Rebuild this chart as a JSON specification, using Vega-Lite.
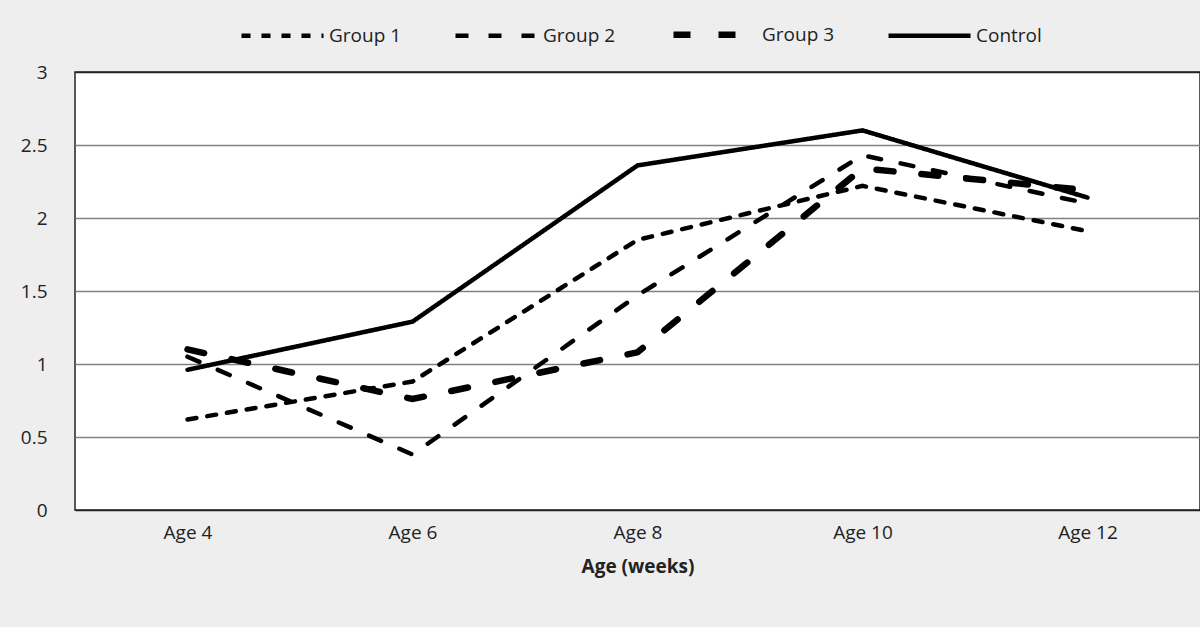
{
  "$schema": "https://vega.github.io/schema/vega-lite/v6.json",
  "autosize": {"type": "none"},
  "padding": {"left": 75, "top": 72, "right": 0, "bottom": 117},
  "width": 1125,
  "height": 438,
  "background": "#eeeeee",
  "config": {
    "font": "Open Sans",
    "view": {"fill": "white", "stroke": "#222", "strokeWidth": 1.5}
  },
  "data": {
    "values": [
      {"age": "Age 4", "series": "Group 1", "value": 0.62},
      {"age": "Age 6", "series": "Group 1", "value": 0.88},
      {"age": "Age 8", "series": "Group 1", "value": 1.85},
      {"age": "Age 10", "series": "Group 1", "value": 2.22},
      {"age": "Age 12", "series": "Group 1", "value": 1.91},
      {"age": "Age 4", "series": "Group 2", "value": 1.05},
      {"age": "Age 6", "series": "Group 2", "value": 0.38},
      {"age": "Age 8", "series": "Group 2", "value": 1.47},
      {"age": "Age 10", "series": "Group 2", "value": 2.43},
      {"age": "Age 12", "series": "Group 2", "value": 2.1},
      {"age": "Age 4", "series": "Group 3", "value": 1.1},
      {"age": "Age 6", "series": "Group 3", "value": 0.76},
      {"age": "Age 8", "series": "Group 3", "value": 1.08},
      {"age": "Age 10", "series": "Group 3", "value": 2.34},
      {"age": "Age 12", "series": "Group 3", "value": 2.19},
      {"age": "Age 4", "series": "Control", "value": 0.96},
      {"age": "Age 6", "series": "Control", "value": 1.29},
      {"age": "Age 8", "series": "Control", "value": 2.36},
      {"age": "Age 10", "series": "Control", "value": 2.6},
      {"age": "Age 12", "series": "Control", "value": 2.14}
    ]
  },
  "mark": {"type": "line", "color": "black", "strokeCap": "round"},
  "encoding": {
    "x": {
      "field": "age",
      "type": "ordinal",
      "sort": ["Age 4", "Age 6", "Age 8", "Age 10", "Age 12"],
      "scale": {"padding": 0.5},
      "axis": {
        "title": "Age (weeks)",
        "labelAngle": 0,
        "labelFontSize": 19,
        "labelColor": "#222",
        "labelPadding": 13,
        "ticks": false,
        "domain": false,
        "titleFontSize": 19,
        "titleFontWeight": "bold",
        "titleColor": "#222",
        "titlePadding": 15
      }
    },
    "y": {
      "field": "value",
      "type": "quantitative",
      "scale": {"domain": [0, 3]},
      "axis": {
        "title": null,
        "values": [0, 0.5, 1, 1.5, 2, 2.5, 3],
        "format": "~g",
        "labelFontSize": 19,
        "labelColor": "#222",
        "labelPadding": 28,
        "ticks": false,
        "domain": false,
        "grid": true,
        "gridColor": {"condition": {"test": "datum.value === 0 || datum.value === 3", "value": "#222"}, "value": "#808080"},
        "gridWidth": 1.5
      }
    },
    "strokeDash": {
      "field": "series",
      "type": "ordinal",
      "scale": {
        "domain": ["Group 1", "Group 2", "Group 3", "Control"],
        "range": [[9, 11], [13, 20], [17, 28], [1, 0]]
      },
      "legend": {
        "title": null,
        "orient": "none",
        "direction": "horizontal",
        "legendX": 164,
        "legendY": -82,
        "symbolType": "stroke",
        "symbolSize": 6724,
        "symbolStrokeColor": "black",
        "labelFontSize": 19,
        "labelColor": "#222",
        "labelOffset": 3,
        "columnPadding": 44
      }
    },
    "strokeWidth": {
      "field": "series",
      "type": "ordinal",
      "scale": {
        "type": "ordinal",
        "domain": ["Group 1", "Group 2", "Group 3", "Control"],
        "range": [4.5, 4.5, 6.5, 4.5]
      },
      "legend": {
        "title": null,
        "orient": "none",
        "direction": "horizontal",
        "legendX": 164,
        "legendY": -82,
        "symbolType": "stroke",
        "symbolSize": 6724,
        "symbolStrokeColor": "black",
        "labelFontSize": 19,
        "labelColor": "#222",
        "labelOffset": 3,
        "columnPadding": 44
      }
    }
  }
}
